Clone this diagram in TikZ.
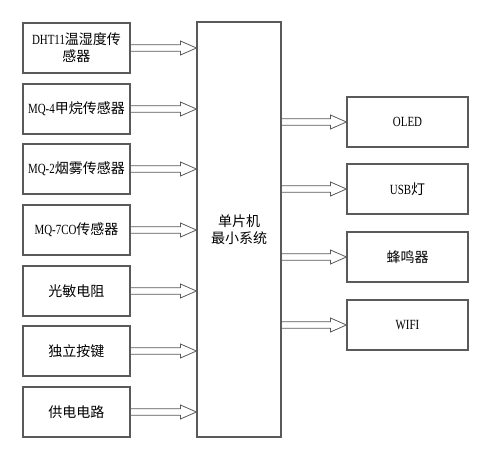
\documentclass[tikz,border=0pt]{standalone}
\usepackage{fontspec}
\usetikzlibrary{calc}
\newfontfamily\cjk{Noto Sans CJK SC}
\newfontfamily\latn[FakeStretch=0.78]{Liberation Serif}
\definecolor{ln}{HTML}{5A5A5A}
\newcommand{\harr}[2]{\draw[arrowline] ($(#1)+(0,-3.3)$) -- ($(#2)+(-16,-3.3)$) -- ($(#2)+(-16,-7)$) -- (#2) -- ($(#2)+(-16,7)$) -- ($(#2)+(-16,3.3)$) -- ($(#1)+(0,3.3)$);}
\begin{document}
\begin{tikzpicture}[x=1pt,y=-1pt,
  box/.style={draw=ln,line width=1.1pt,minimum height=50pt,inner sep=1pt,align=center,font=\fontsize{14}{17}\selectfont\cjk},
  lbox/.style={box,minimum width=107pt},
  rbox/.style={box,minimum width=121pt},
  arrowline/.style={draw=ln,line width=0.8pt,line join=miter}]
\useasboundingbox (0,0) rectangle (491,462);
\fill[white] (0,0) rectangle (491,462);
\node[lbox] (b1) at (76.5,48) {{\latn DHT11}温湿度传\\感器};
\node[lbox] (b2) at (76.5,109) {{\latn MQ-4}甲烷传感器};
\node[lbox] (b3) at (76.5,169) {{\latn MQ-2}烟雾传感器};
\node[lbox] (b4) at (76.5,230) {{\latn MQ-7CO}传感器};
\node[lbox] (b5) at (76.5,291) {光敏电阻};
\node[lbox] (b6) at (76.5,351) {独立按键};
\node[lbox] (b7) at (76.5,412) {供电电路};
\node[box,minimum width=84pt,minimum height=415pt] (c) at (239,229.5) {单片机\\最小系统};
\node[rbox] (r1) at (407.5,122) {{\latn OLED}};
\node[rbox] (r2) at (407.5,189) {{\latn USB}灯};
\node[rbox] (r3) at (407.5,257) {蜂鸣器};
\node[rbox] (r4) at (407.5,325) {{\latn WIFI}};
\foreach \i in {1,...,7}{
  \coordinate (e\i) at (c.west |- b\i.east);
  \harr{b\i.east}{e\i}
}
\foreach \i in {1,...,4}{
  \coordinate (s\i) at (c.east |- r\i.west);
  \harr{s\i}{r\i.west}
}
\end{tikzpicture}
\end{document}
